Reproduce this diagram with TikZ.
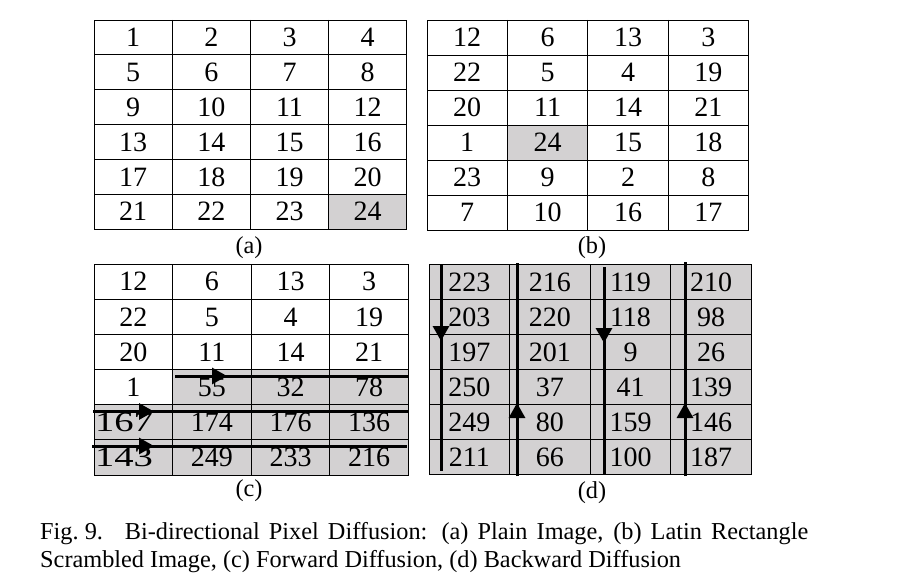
\documentclass[tikz,border=0pt]{standalone}
\usepackage{fontspec}
\usepackage{graphicx}
\setmainfont{Liberation Serif}
\usetikzlibrary{arrows.meta}
\definecolor{cellgray}{RGB}{211,209,210}
\tikzset{
  gridline/.style={black, line width=0.9pt},
  cellfill/.style={fill=cellgray},
  cell/.style={inner sep=0pt, text height=18.6pt, text depth=0pt, font=\fontsize{28}{30}\selectfont},
  sublabel/.style={inner sep=0pt, anchor=base, font=\fontsize{24.3}{28}\selectfont},
  flowline/.style={line width=3pt, black},
  flowtip/.style={line width=3pt, black, -{Triangle[length=15pt,width=16pt]}},
  capline/.style={inner sep=0pt, anchor=base west, font=\fontsize{24.3}{28}\selectfont},
}
% #1 x0, #2 y0 (downward), #3 cell width, #4 cell height
\newcommand{\mygridlines}[4]{%
  \foreach \i in {1,2,3} \draw[gridline] ({#1+\i*#3},{-#2}) -- ({#1+\i*#3},{-(#2+6*#4)});
  \foreach \j in {1,...,5} \draw[gridline] ({#1},{-(#2+\j*#4)}) -- ({#1+4*#3},{-(#2+\j*#4)});
  \draw[gridline] ({#1},{-#2}) rectangle ({#1+4*#3},{-(#2+6*#4)});
}
% #1 x0, #2 y0, #3 cw, #4 ch, #5 row, #6 col
\newcommand{\myshade}[6]{%
  \fill[cellfill] ({#1+(#6-1)*#3},{-(#2+(#5-1)*#4)}) rectangle ({#1+#6*#3},{-(#2+#5*#4)});
}
% #1 name, #2 x0, #3 y0, #4 cw, #5 ch, #6 rows list
\newcommand{\mynums}[6]{%
  \foreach \r/\vals in {#6} {
    \foreach \v [count=\c] in \vals {
      \node[cell] (#1-\r-\c) at ({#2+(\c-0.5)*#4},{-(#3+(\r-0.5)*#5)}) {\v};
    }
  }
}
\newcommand{\widenum}[1]{\scalebox{1.38}[1]{#1}\hspace*{18.6pt}}
\begin{document}
\begin{tikzpicture}[x=1pt,y=1pt]
\useasboundingbox (0,0) rectangle (905,-583);
\fill[white] (0,0) rectangle (905,-583);

% ---------- (a) ----------
\myshade{94}{20}{78.2}{34.85}{6}{4}
\mygridlines{94}{20}{78.2}{34.85}
\mynums{a}{94}{20}{78.2}{34.85}{1/{1,2,3,4},2/{5,6,7,8},3/{9,10,11,12},4/{13,14,15,16},5/{17,18,19,20},6/{21,22,23,24}}
\node[sublabel] (la) at (249,-253) {(a)};

% ---------- (b) ----------
\myshade{427}{20}{80.4}{35}{4}{2}
\mygridlines{427}{20}{80.4}{35}
\mynums{b}{427}{20}{80.4}{35}{1/{12,6,13,3},2/{22,5,4,19},3/{20,11,14,21},4/{1,24,15,18},5/{23,9,2,8},6/{7,10,16,17}}
\node[sublabel] (lb) at (592,-253) {(b)};

% ---------- (c) ----------
\foreach \cc in {2,3,4} {\myshade{94}{264}{78.6}{35.17}{4}{\cc}}
\foreach \rr in {5,6} {\foreach \cc in {1,2,3,4} {\myshade{94}{264}{78.6}{35.17}{\rr}{\cc}}}
\mygridlines{94}{264}{78.6}{35.17}
\mynums{c}{94}{264}{78.6}{35.17}{1/{12,6,13,3},2/{22,5,4,19},3/{20,11,14,21},4/{1,55,32,78},5/{\widenum{167},174,176,136},6/{\widenum{143},249,233,216}}
\node[sublabel] (lc) at (249,-496) {(c)};

% ---------- (d) ----------
\foreach \rr in {1,...,6} {\foreach \cc in {1,2,3,4} {\myshade{429}{264.3}{80.6}{35.1}{\rr}{\cc}}}
\mygridlines{429}{264.3}{80.6}{35.1}
\mynums{d}{429}{264.3}{80.6}{35.1}{1/{223,216,119,210},2/{203,220,118,98},3/{197,201,9,26},4/{250,37,41,139},5/{249,80,159,146},6/{211,66,100,187}}
\node[sublabel] (ld) at (592,-498) {(d)};

% ---------- forward diffusion arrows (c) ----------
\coordinate (f4s) at (175,-376);   \coordinate (f4e) at (408,-376);   \coordinate (f4t) at (227,-376);
\coordinate (f5s) at (93,-411.5);  \coordinate (f5e) at (408,-411.5); \coordinate (f5t) at (154,-411.5);
\coordinate (f6s) at (92,-446);    \coordinate (f6e) at (407,-446);   \coordinate (f6t) at (154,-446);
\draw[flowline] (f4s) -- (f4e); \draw[flowtip] (f4s) -- (f4t);
\draw[flowline] (f5s) -- (f5e); \draw[flowtip] (f5s) -- (f5t);
\draw[flowline] (f6s) -- (f6e); \draw[flowtip] (f6s) -- (f6t);

% ---------- backward diffusion arrows (d) ----------
\coordinate (b1s) at (441,-264);   \coordinate (b1e) at (441,-471);   \coordinate (b1t) at (441,-341);
\coordinate (b2s) at (517,-476);   \coordinate (b2e) at (517,-263);   \coordinate (b2t) at (517,-403);
\coordinate (b3s) at (604,-267);   \coordinate (b3e) at (604,-474);   \coordinate (b3t) at (604,-343);
\coordinate (b4s) at (685,-476);   \coordinate (b4e) at (685,-262);   \coordinate (b4t) at (685,-403);
\draw[flowline] (b1s) -- (b1e); \draw[flowtip] (b1s) -- (b1t);
\draw[flowline] (b2s) -- (b2e); \draw[flowtip] (b2s) -- (b2t);
\draw[flowline] (b3s) -- (b3e); \draw[flowtip] (b3s) -- (b3t);
\draw[flowline] (b4s) -- (b4e); \draw[flowtip] (b4s) -- (b4t);

% ---------- caption ----------
\node[capline] (cap1) at (40,-539) {\makebox[768pt][s]{Fig.\hspace{0.25em}9.\hspace{0.9em}Bi-directional Pixel Diffusion: (a) Plain Image, (b) Latin Rectangle}};
\node[capline] (cap2) at (40,-567) {Scrambled Image, (c) Forward Diffusion, (d) Backward Diffusion};
\end{tikzpicture}
\end{document}
